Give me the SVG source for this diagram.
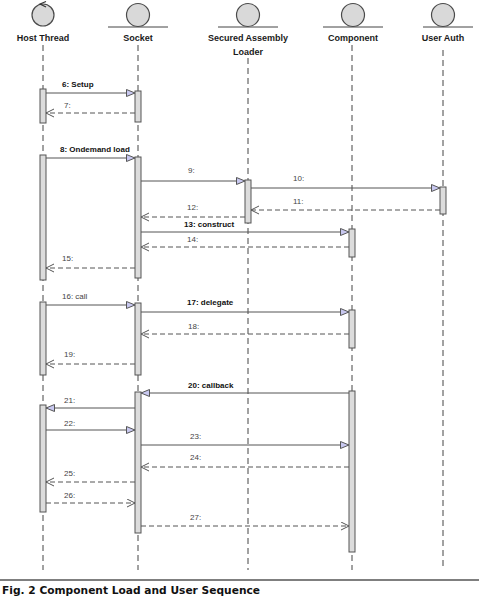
<svg xmlns="http://www.w3.org/2000/svg" width="479" height="596" viewBox="0 0 479 596">
<defs>
<style>
.bg{fill:#ffffff}
.head{fill:#d9d9d9;stroke:#4a4a4a;stroke-width:1.2}
.base{stroke:#444;stroke-width:1}
.life{stroke:#444;stroke-width:1;stroke-dasharray:6 4;fill:none}
.bar{fill:#dcdcdc;stroke:#555;stroke-width:1}
.name{font-family:"Liberation Sans",Arial,sans-serif;font-size:9px;font-weight:bold;fill:#1a1a1a;text-anchor:middle}
.msg{stroke:#555;stroke-width:1;fill:none}
.ret{stroke:#555;stroke-width:1;fill:none;stroke-dasharray:5 3}
.lbl{font-family:"Liberation Sans",Arial,sans-serif;font-size:8px;fill:#444}
.lblb{font-family:"Liberation Sans",Arial,sans-serif;font-size:8px;font-weight:bold;fill:#111}
.cap{font-family:"DejaVu Sans",Verdana,sans-serif;font-size:10.5px;font-weight:bold;fill:#111}
</style>
<marker id="tri" markerUnits="userSpaceOnUse" markerWidth="10" markerHeight="10" refX="9" refY="4" orient="auto">
<path d="M0.5,0.5 L9,4 L0.5,7.5 z" fill="#c8c8f0" stroke="#555" stroke-width="1"/>
</marker>
<marker id="open" markerUnits="userSpaceOnUse" markerWidth="10" markerHeight="10" refX="9" refY="4.5" orient="auto">
<path d="M1,0.5 L9,4.5 L1,8.5" fill="none" stroke="#555" stroke-width="1"/>
</marker>
</defs>
<rect class="bg" x="0" y="0" width="479" height="596"/>

<g id="host-thread">
<line class="life" x1="43" y1="45" x2="43" y2="570"/>
<circle class="head" cx="43" cy="15" r="11"/>
<path d="M46,1.5 L40,4 L46,7" fill="none" stroke="#333" stroke-width="1.2"/>
<text class="name" x="43" y="41">Host Thread</text>
<rect class="bar" x="40" y="89" width="6" height="34"/>
<rect class="bar" x="40" y="155" width="6" height="125"/>
<rect class="bar" x="40" y="302" width="6" height="73"/>
<rect class="bar" x="40" y="405" width="6" height="107"/>
</g>

<g id="socket">
<line class="life" x1="138" y1="45" x2="138" y2="570"/>
<line class="base" x1="108" y1="27" x2="168" y2="27"/>
<circle class="head" cx="138" cy="15" r="11.5"/>
<text class="name" x="138" y="41">Socket</text>
<rect class="bar" x="135" y="91" width="6" height="31"/>
<rect class="bar" x="135" y="157" width="6" height="121"/>
<rect class="bar" x="135" y="303" width="6" height="72"/>
<rect class="bar" x="135" y="392" width="6" height="141"/>
</g>

<g id="secured-assembly-loader">
<line class="life" x1="248" y1="58" x2="248" y2="570"/>
<line class="base" x1="218" y1="27" x2="278" y2="27"/>
<circle class="head" cx="248" cy="15" r="11.5"/>
<text class="name" x="248" y="41">Secured Assembly</text>
<text class="name" x="248" y="55">Loader</text>
<rect class="bar" x="245" y="180" width="6" height="43"/>
</g>

<g id="component">
<line class="life" x1="352" y1="45" x2="352" y2="570"/>
<line class="base" x1="323" y1="27" x2="383" y2="27"/>
<circle class="head" cx="353" cy="15" r="11.5"/>
<text class="name" x="353" y="41">Component</text>
<rect class="bar" x="349" y="229" width="6" height="28"/>
<rect class="bar" x="349" y="310" width="6" height="38"/>
<rect class="bar" x="349" y="391" width="6" height="161"/>
</g>

<g id="user-auth">
<line class="life" x1="443" y1="50" x2="443" y2="570"/>
<line class="base" x1="423" y1="27" x2="473" y2="27"/>
<circle class="head" cx="443" cy="15" r="11.5"/>
<text class="name" x="443" y="41">User Auth</text>
<rect class="bar" x="440" y="187" width="6" height="27"/>
</g>

<g id="connectors">
<line class="msg" x1="46" y1="93" x2="135" y2="93" marker-end="url(#tri)"/>
<text class="lblb" x="62" y="87">6: Setup</text>
<line class="ret" x1="135" y1="113" x2="46" y2="113" marker-end="url(#open)"/>
<text class="lbl" x="64" y="108">7:</text>

<line class="msg" x1="46" y1="158" x2="135" y2="158" marker-end="url(#tri)"/>
<text class="lblb" x="60" y="152">8: Ondemand load</text>
<line class="msg" x1="141" y1="181" x2="245" y2="181" marker-end="url(#tri)"/>
<text class="lbl" x="188" y="173">9:</text>
<line class="msg" x1="251" y1="188" x2="440" y2="188" marker-end="url(#tri)"/>
<text class="lbl" x="293" y="181">10:</text>
<line class="ret" x1="440" y1="210" x2="251" y2="210" marker-end="url(#open)"/>
<text class="lbl" x="293" y="204">11:</text>
<line class="ret" x1="245" y1="217" x2="141" y2="217" marker-end="url(#open)"/>
<text class="lbl" x="187" y="210">12:</text>
<line class="msg" x1="141" y1="232" x2="349" y2="232" marker-end="url(#tri)"/>
<text class="lblb" x="184" y="227">13: construct</text>
<line class="ret" x1="349" y1="247" x2="141" y2="247" marker-end="url(#open)"/>
<text class="lbl" x="187" y="242">14:</text>
<line class="ret" x1="135" y1="268" x2="46" y2="268" marker-end="url(#open)"/>
<text class="lbl" x="62" y="261">15:</text>

<line class="msg" x1="46" y1="305" x2="135" y2="305" marker-end="url(#tri)"/>
<text class="lbl" x="62" y="299">16: call</text>
<line class="msg" x1="141" y1="312" x2="349" y2="312" marker-end="url(#tri)"/>
<text class="lblb" x="187" y="305">17: delegate</text>
<line class="ret" x1="349" y1="334" x2="141" y2="334" marker-end="url(#open)"/>
<text class="lbl" x="188" y="329">18:</text>
<line class="ret" x1="135" y1="364" x2="46" y2="364" marker-end="url(#open)"/>
<text class="lbl" x="64" y="357">19:</text>

<line class="msg" x1="349" y1="393" x2="141" y2="393" marker-end="url(#tri)"/>
<text class="lblb" x="188" y="388">20: callback</text>
<line class="msg" x1="135" y1="408" x2="46" y2="408" marker-end="url(#tri)"/>
<text class="lbl" x="64" y="403">21:</text>
<line class="msg" x1="46" y1="430" x2="135" y2="430" marker-end="url(#tri)"/>
<text class="lbl" x="64" y="426">22:</text>
<line class="msg" x1="141" y1="445" x2="349" y2="445" marker-end="url(#tri)"/>
<text class="lbl" x="190" y="439">23:</text>
<line class="ret" x1="349" y1="467" x2="141" y2="467" marker-end="url(#open)"/>
<text class="lbl" x="190" y="460">24:</text>
<line class="ret" x1="135" y1="482" x2="46" y2="482" marker-end="url(#open)"/>
<text class="lbl" x="64" y="476">25:</text>
<line class="ret" x1="46" y1="503" x2="135" y2="503" marker-end="url(#open)"/>
<text class="lbl" x="64" y="498">26:</text>
<line class="ret" x1="141" y1="526" x2="349" y2="526" marker-end="url(#open)"/>
<text class="lbl" x="190" y="520">27:</text>
</g>

<line x1="0" y1="580" x2="479" y2="580" stroke="#555" stroke-width="1.5"/>
<text class="cap" x="2" y="594" textLength="258" lengthAdjust="spacingAndGlyphs">Fig. 2 Component Load and User Sequence</text>
</svg>
